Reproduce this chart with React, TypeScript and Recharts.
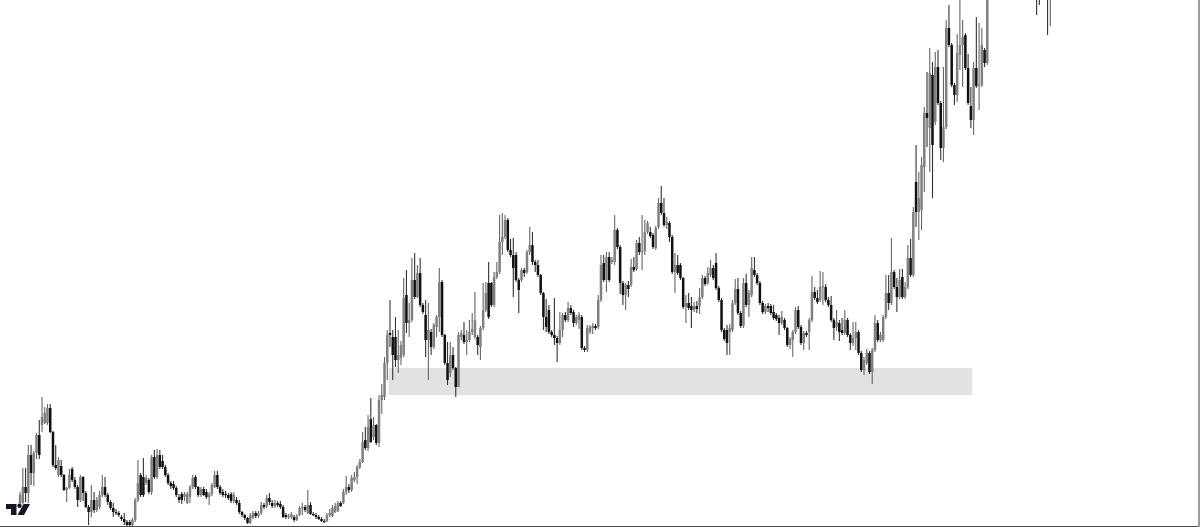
import React from "react";
import { Bar, ComposedChart, ReferenceArea, XAxis, YAxis } from "recharts";

const opens = [
  24,24,40,34,72,54,74,92,102, 104,104,119,95,62,52,61,52,37,
  39,58,47,40,27,50,34,20,15,27, 17,20,32,40,32,25,19,15,14,
  10,8,5,5,2,7,27,52,50,44, 47,35,70,50,72,66,60,52,44,43,
  39,30,33,30,24,30,40,50,40, 32,38,35,30,33,40,52,40,35,33,
  32,33,26,27,24,15,12,9,4,9, 14,11,14,22,21,29,24,21,24,23,20,
  12,10,10,10,7,12,19,20,14,22,13,12, 10,8,6,6,12,11,15,16,24,24,35,
  40,37,47,50,60,65,87,79,108,90, 102,84,127,130,164,194,190,190,167,169,
  172,232,204,207,247,230,254,222,212,187, 195,180,200,210,245,192,164,154,172,159,
  140,190,192,185,187,195,190,190,180,199, 217,244,244,222,250,255,285,290,307,277,
  272,272,247,247,257,255,275,282,265,262, 252,234,210,217,195,192,189,184,197,212,
  207,219,215,204,207,210,179,177,195,199, 201,200,227,264,247,270,265,265,297,280,
  244,232,242,242,260,258,284,275,276,295,295, 292,279,300,324,314,302,304,290,255,262,
  262,249,220,224,221,217,221,221,230,249,244, 252,259,264,239,227,197,197,195,197,224,
  238,214,201,244,222,232,257,252,244,224, 215,221,221,215,212,209,204,207,199,182,187,
  195,217,200,184,194,195,207,235,229,227, 240,240,227,222,207,200,204,197,194,207,
  192,184,189,195,174,157,164,174,155,177, 204,187,187,210,234,224,255,240,230,250,230,
  240,269,252,345,315,317,360,414,399, 452,405,460,424,379,400,499,482,442,
  432,472,482,492,459,421,407,459,441, 442,477,464,530,545,560,552,566,575,
  570,582,590,585,596,602,598,590,582,574, 566,560,556,550,555,548,542,548,
];
const closes = [
  32,40,34,72,54,74,92,72,110, 114,119,95,62,59,67,52,37,39,
  52,47,40,27,50,34,20,15,27,17, 27,32,40,32,25,19,15,14,12,
  8,5,2,2,7,27,44,32,32,49, 35,70,50,72,60,60,52,44,41,39,
  32,27,27,33,33,40,49,40,32, 38,32,30,33,42,52,40,34,32,32,
  29,26,32,24,15,12,9,4,12,14, 11,14,22,20,29,25,21,24,22,20,10,
  10,11,13,7,11,19,20,17,22,13,12,10, 8,6,5,12,14,19,21,24,21,35,40,
  37,49,50,60,65,85,79,100,85,102, 84,127,132,164,192,192,172,167,172,182,
  229,204,207,247,230,254,222,215,187,197, 180,202,210,245,192,164,147,172,159,140,
  192,194,185,187,195,198,207,182,199,217, 234,210,222,250,255,285,290,307,277,272,
  259,247,237,257,254,275,282,265,262,252, 234,210,200,195,192,189,184,197,212,207,
  219,214,204,210,212,179,177,199,200,201, 199,227,262,247,270,247,267,297,280,244,
  232,242,238,260,257,284,275,276,295,304,291, 280,299,324,314,302,305,290,255,262,254,
  249,220,224,219,217,221,218,230,249,243,254, 259,249,239,227,197,188,184,199,224,238,
  214,201,244,222,234,259,252,244,224,215, 221,219,214,209,208,204,210,199,182,188,195,
  217,200,184,194,192,207,235,229,225,240, 241,227,222,207,199,205,195,194,207,192,
  184,189,195,174,157,167,174,155,177,204, 187,192,210,234,224,255,240,230,247,230,240,
  269,252,315,315,329,362,414,409,454, 382,460,424,379,400,499,482,442,432,
  474,482,490,459,424,407,459,441,442, 482,464,530,545,560,552,566,575,570,
  582,590,585,596,602,598,590,582,574,566, 560,556,550,555,548,542,548,555,
];
const highs = [
  35,59,59,82,82,76,94,107,130, 120,123,123,96,82,70,67,53,40,
  58,60,50,42,52,51,36,22,42,35, 30,36,52,50,34,27,24,18,16,
  12,14,7,7,9,29,67,54,69,52, 49,72,77,78,77,72,62,54,46,46,
  41,33,35,35,35,42,52,52,41, 40,40,38,35,44,56,56,42,38,36,
  34,35,35,30,27,16,13,10,14,16, 16,16,25,24,32,34,27,27,26,26,22,
  14,13,15,12,13,21,24,22,37,25,15,14, 12,10,8,14,18,22,24,26,26,38,51,
  43,52,55,62,68,95,100,112,129,110, 103,132,143,170,197,227,197,210,197,186,
  249,257,224,269,274,262,269,224,227,224, 198,204,212,259,247,193,185,185,180,160,
  195,197,205,197,207,214,235,192,201,244, 245,265,245,255,265,312,314,312,309,288,
  289,275,249,259,259,277,300,295,267,267, 253,235,228,222,197,229,191,215,214,215,
  225,222,217,212,215,212,181,202,202,204, 203,232,272,272,275,275,270,312,299,282,
  246,244,246,268,270,287,290,312,307,306,300, 294,301,329,341,329,310,306,292,274,272,
  264,250,232,234,230,225,226,239,252,251,260, 267,262,274,241,229,199,202,203,227,248,
  249,216,249,253,237,270,270,254,246,226, 223,224,223,222,214,212,216,209,200,190,197,
  220,221,202,196,196,209,251,240,237,256, 255,243,230,231,209,217,207,209,217,209,
  194,205,205,197,176,170,178,176,179,212, 207,195,212,252,252,289,257,249,258,258,245,
  282,288,320,382,355,370,420,455,479, 465,475,477,426,460,507,522,484,444,
  493,530,507,494,473,440,465,510,504, 499,479,545,558,570,572,575,585,590,
  590,598,600,605,612,615,608,600,592,584, 575,570,565,562,565,556,560,565,
];
const lows = [
  23,23,25,24,42,41,68,68,95, 103,102,94,60,57,50,50,36,25,
  38,45,38,20,25,26,19,2,10,14, 15,18,30,30,22,17,10,12,10,
  6,2,1,1,1,5,25,30,30,42, 33,32,48,48,58,58,50,42,38,37,
  30,24,23,26,23,24,38,38,30, 30,31,28,22,31,39,38,32,30,29,
  27,24,24,22,13,10,7,3,3,8, 9,9,12,18,19,22,19,19,20,18,9,
  8,8,8,5,6,11,12,15,13,12,11,8, 7,5,4,5,10,10,14,15,20,23,32,
  34,35,45,43,58,64,77,76,84,87, 82,80,113,127,147,180,147,160,154,162,
  170,194,190,205,228,229,220,213,170,147, 172,178,190,195,190,162,142,150,157,130,
  140,187,183,172,185,192,188,172,167,197, 215,208,220,220,248,253,272,288,275,270,
  230,245,214,245,250,253,272,262,255,250, 232,197,195,193,190,182,165,182,190,205,
  205,212,200,202,198,177,175,175,193,193, 197,198,225,245,235,245,263,262,278,233,
  222,217,230,240,255,256,272,257,272,293,289, 278,277,298,312,300,298,285,253,234,252,
  247,218,204,217,199,215,214,213,228,241,242, 250,247,237,225,195,186,172,172,195,222,
  212,199,199,220,210,230,250,242,222,213, 213,215,212,207,206,192,202,197,180,178,170,
  193,198,182,177,190,177,205,227,223,225, 222,225,220,205,187,196,186,192,192,190,
  177,181,177,172,155,152,162,153,143,175, 185,185,185,208,217,222,238,215,228,228,228,
  238,250,250,300,287,297,335,380,355, 329,402,422,367,365,398,480,440,422,
  425,457,440,457,422,399,392,439,417, 440,460,462,528,540,548,547,560,565,
  560,575,578,580,590,592,585,578,570,560, 545,512,522,540,535,492,501,535,
];

const zoneLow = 132;
const zoneHigh = 159;
const zoneFirst = 135;
const zoneLast = 347;

const rows = opens.map((open, i) => ({
  i,
  open,
  close: closes[i],
  high: highs[i],
  low: lows[i],
  range: [lows[i], highs[i]],
}));

function Candle(props: any) {
  const { x, y, width, height, payload } = props;
  const { open, close, high, low } = payload;
  const perUnit = Math.abs(height) / Math.max(high - low, 1);
  const at = (v: number) => Math.min(y, y + height) + (high - v) * perUnit;
  const cx = x + width / 2;
  const down = close < open;
  const top = at(Math.max(open, close));
  const bottom = at(Math.min(open, close));
  return (
    <g>
      <line x1={cx} x2={cx} y1={at(high)} y2={at(low)} stroke={down ? "#333" : "#666"} strokeWidth={1.1} />
      <rect x={cx - 1.25} y={top} width={2.5} height={Math.max(bottom - top, 1.2)} fill={down ? "#111" : "#808080"} />
    </g>
  );
}

export default function App() {
  return (
    <div style={{ position: "absolute", left: 0, top: 0, width: 1200, height: 527, background: "#fff", overflow: "hidden" }}>
      <ComposedChart
        width={1200}
        height={527}
        data={rows}
        margin={{ top: 0, right: 145.7, bottom: 0, left: 18.6 }}
        barCategoryGap={0}
        barGap={0}
      >
        <XAxis dataKey="i" type="category" hide />
        <YAxis type="number" domain={[0, 527]} allowDataOverflow hide />
        <ReferenceArea x1={zoneFirst} x2={zoneLast} y1={zoneLow} y2={zoneHigh} fill="#e1e2e4" fillOpacity={1} stroke="none" />
        <Bar dataKey="range" shape={Candle} isAnimationActive={false} />
      </ComposedChart>
      <svg width={40} height={20} style={{ position: "absolute", left: 0, top: 500 }}>
        <path d="M6 4H16.5V15H11V9H6Z" fill="#131722" />
        <circle cx={19.5} cy={5.8} r={2.2} fill="#131722" />
        <path d="M23.5 4H30L24 15H17.5Z" fill="#131722" />
      </svg>
      <div style={{ position: "absolute", left: 0, right: 0, bottom: 0, height: 1.5, background: "#4a4a50" }} />
      <div style={{ position: "absolute", top: 0, bottom: 0, right: 0, width: 2, background: "#9a9aa0" }} />
    </div>
  );
}
